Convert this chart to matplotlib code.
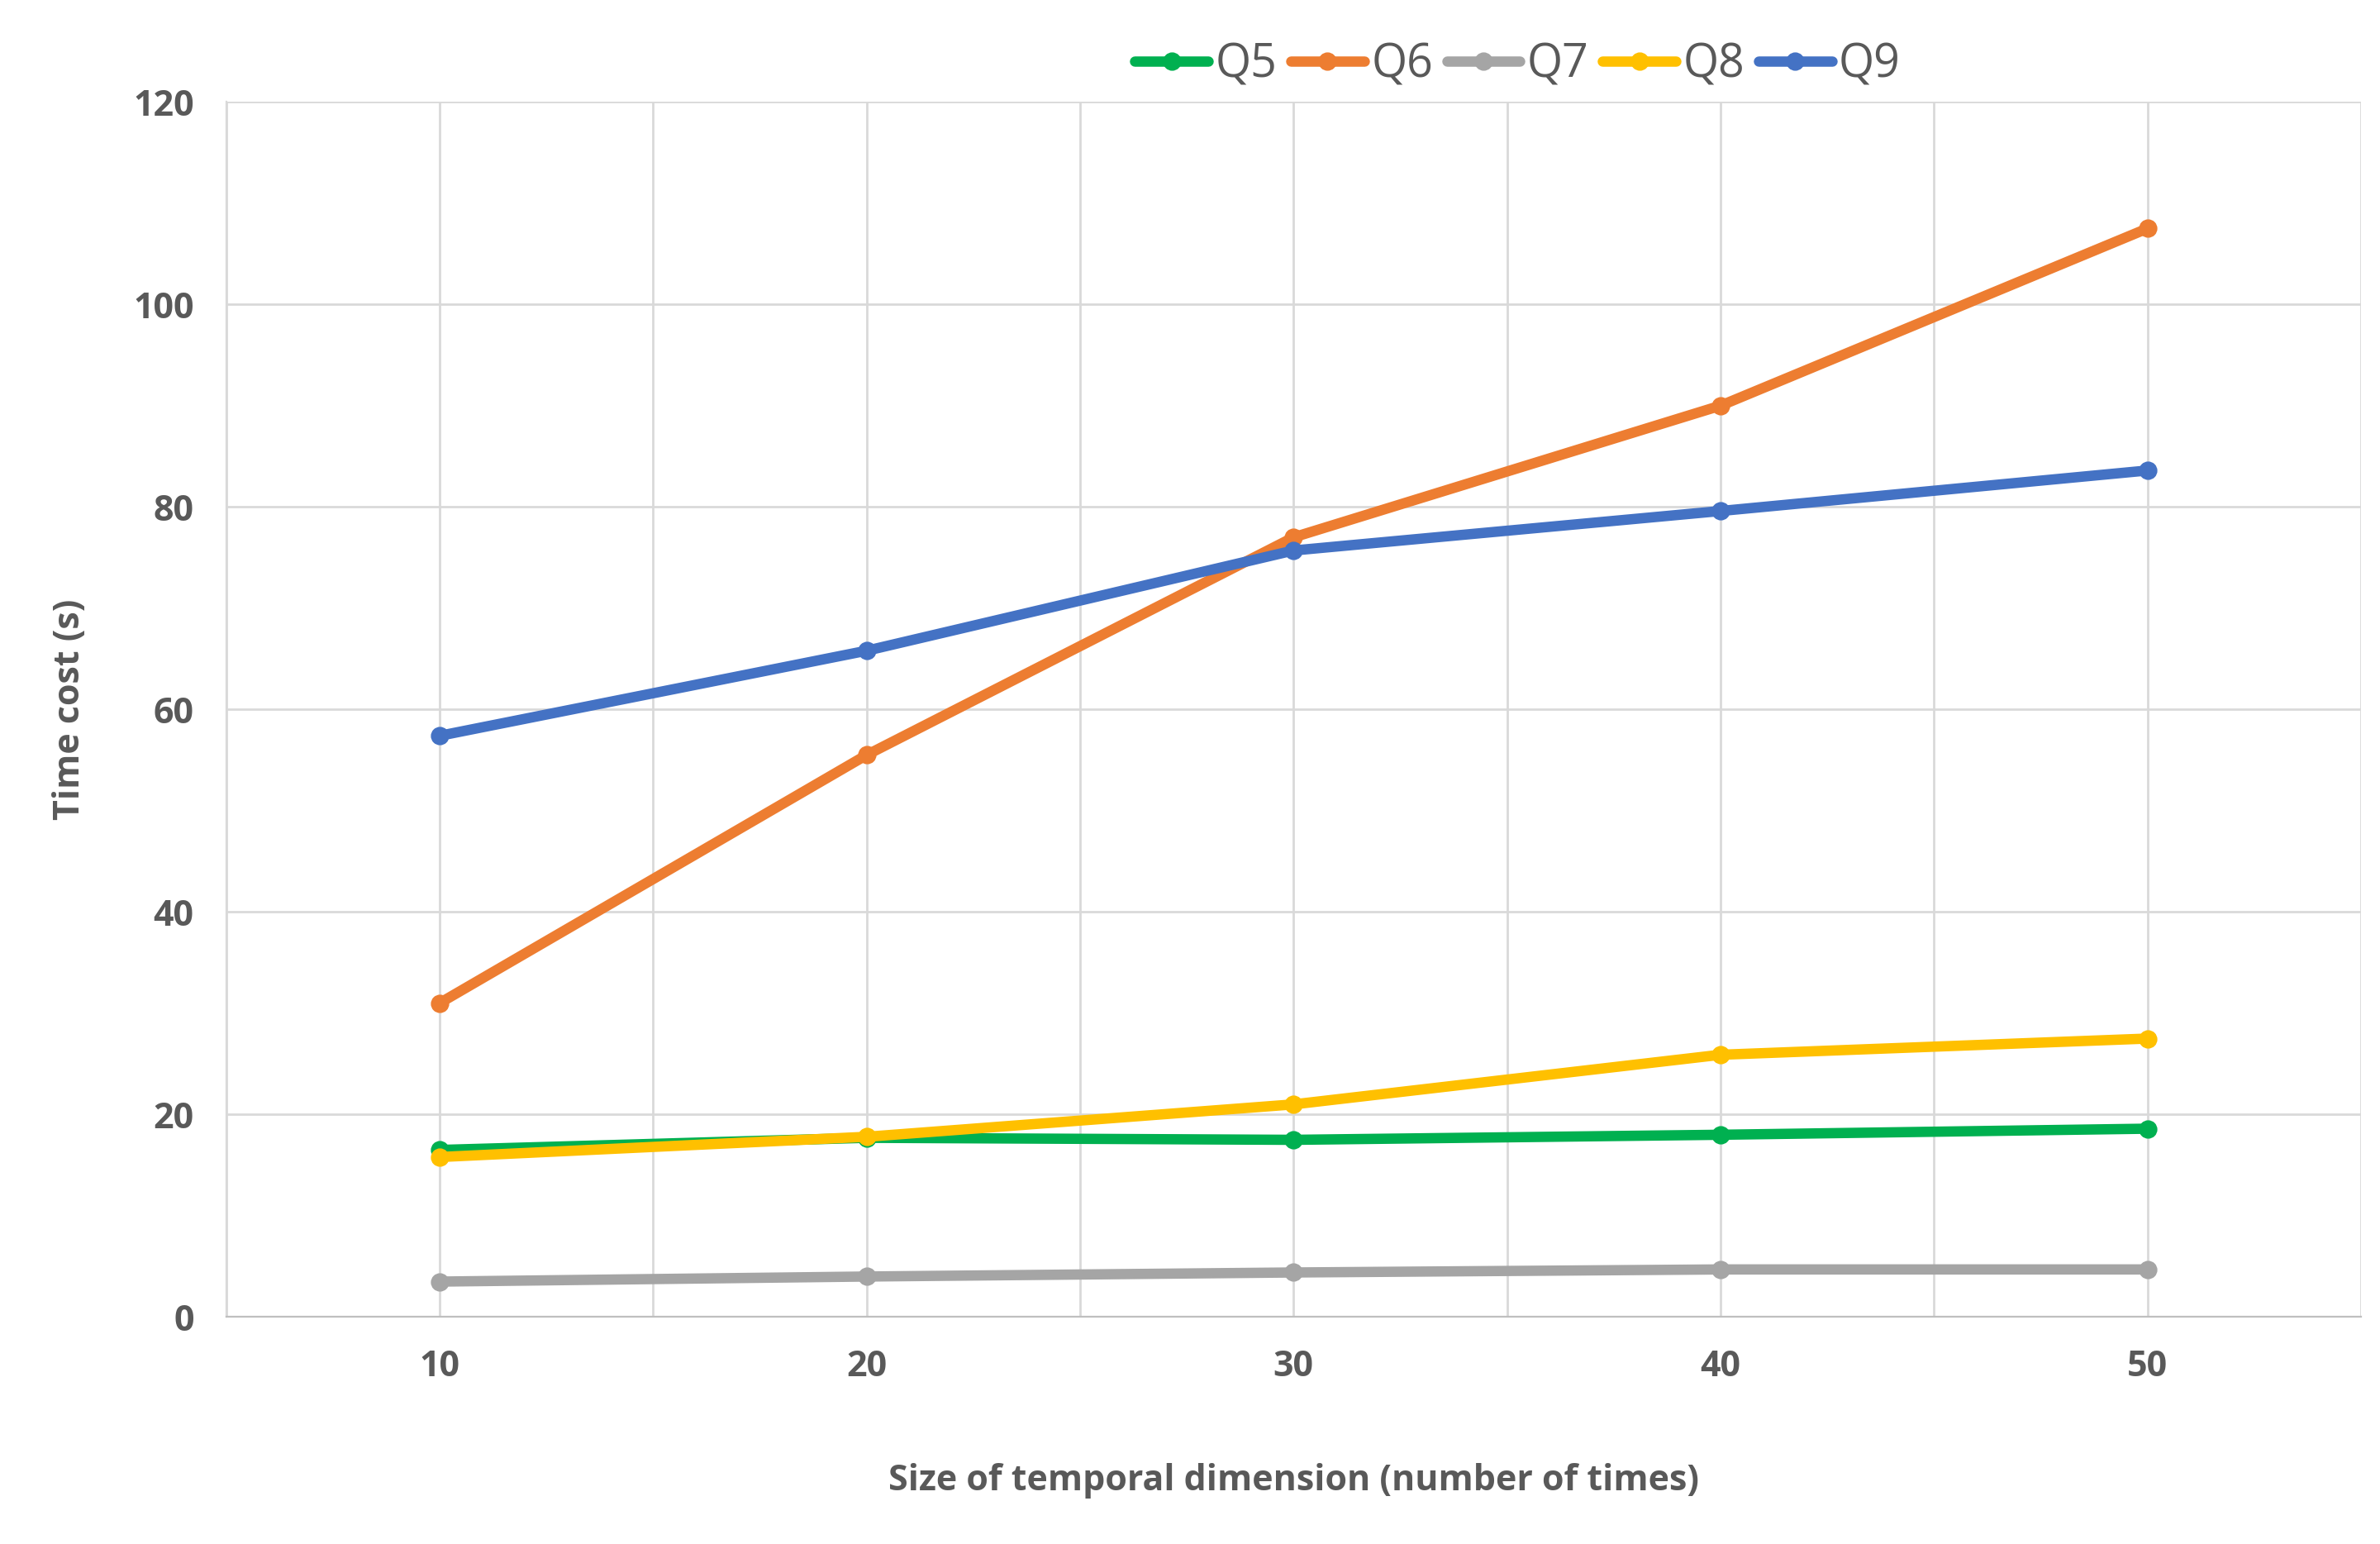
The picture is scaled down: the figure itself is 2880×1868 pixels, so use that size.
import matplotlib
matplotlib.use("Agg")
import matplotlib.pyplot as plt
from matplotlib.ticker import MultipleLocator

sizes = [10, 20, 30, 40, 50]
series_names = ["Q5", "Q6", "Q7", "Q8", "Q9"]
q5 = [16.5, 17.7, 17.5, 18.0, 18.6]
q6 = [31.0, 55.5, 77.0, 90.0, 107.5]
q7 = [3.5, 4.0, 4.4, 4.7, 4.7]
q8 = [15.8, 17.8, 21.0, 25.9, 27.5]
q9 = [57.4, 65.8, 75.7, 79.6, 83.6]
colors = ["#00B050", "#ED7D31", "#A5A5A5", "#FFC000", "#4472C4"]

plt.rcParams['font.family'] = ['Open Sans', 'DejaVu Sans']
fig = plt.figure(figsize=(14.4, 9.34), dpi=200)
ax = fig.add_axes([0.095, 0.147, 0.897, 0.787])
for name, vals, c in zip(series_names, [q5, q6, q7, q8, q9], colors):
    ax.plot(sizes, vals, color=c, lw=4.5, marker='o', ms=7, label=name,
            solid_capstyle='round')
ax.set_xlim(5, 55)
ax.set_ylim(0, 120)
ax.set_xticks(sizes)
ax.xaxis.set_minor_locator(MultipleLocator(5))
ax.yaxis.set_major_locator(MultipleLocator(20))
ax.grid(True, which='both', axis='x', color='#D9D9D9', lw=1)
ax.grid(True, which='major', axis='y', color='#D9D9D9', lw=1)
ax.set_axisbelow(True)
for s in ['top', 'right']:
    ax.spines[s].set_visible(False)
ax.spines['left'].set_color('#D9D9D9')
ax.spines['bottom'].set_color('#BFBFBF')
ax.tick_params(which='both', length=0, labelsize=15.5, colors='#595959', pad=14)
for lab in ax.get_xticklabels() + ax.get_yticklabels():
    lab.set_fontweight('bold')
ax.set_xlabel("Size of temporal dimension (number of times)", fontsize=15.5,
              fontweight='bold', color='#595959', labelpad=34)
ax.set_ylabel("Time cost (s)", fontsize=15.5, fontweight='bold', color='#595959', labelpad=20)
leg = ax.legend(loc='center', bbox_to_anchor=(0.605, 1.03), ncol=5, frameon=False,
                fontsize=20, handlelength=1.6, columnspacing=0.3, handletextpad=0.15,
                labelcolor='#595959')
fig.savefig("out.png", dpi=200)
